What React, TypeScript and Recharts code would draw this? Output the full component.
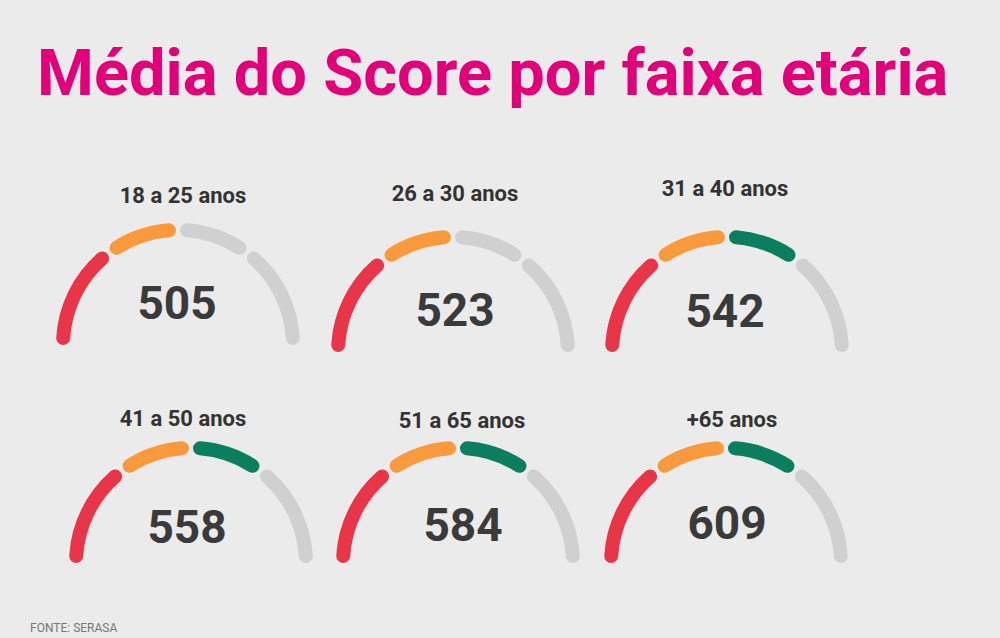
import React from 'react';
import { PieChart, Pie, Cell } from 'recharts';

// ---- data ----
const ageGroups = ['18 a 25 anos', '26 a 30 anos', '31 a 40 anos', '41 a 50 anos', '51 a 65 anos', '+65 anos'];
const scores = [505, 523, 542, 558, 584, 609];
const litBands = [2, 2, 3, 3, 3, 3];
const bandNames = ['Baixo', 'Regular', 'Bom', 'Excelente'];
const bandSizes = [300, 200, 200, 300];
const bandColors = ['#E93548', '#FA9A3C', '#0B7E5F', '#D0D0D0'];
const offColor = '#D0D0D0';
const title = 'Média do Score por faixa etária';
const source = 'FONTE: SERASA';

// ---- layout ----
const W = 1000;
const H = 638;
const gaugePos = [
  { cx: 178, cy: 345, lx: 183, ly: 195, nx: 177, ny: 303 },
  { cx: 453, cy: 352, lx: 455, ly: 193, nx: 455, ny: 310 },
  { cx: 727, cy: 352, lx: 725, ly: 188, nx: 725, ny: 311 },
  { cx: 191, cy: 563, lx: 183, ly: 418, nx: 187, ny: 527 },
  { cx: 458, cy: 563, lx: 462, ly: 420, nx: 463, ny: 525 },
  { cx: 726, cy: 563, lx: 732, ly: 419, nx: 727, ny: 523 },
];

const bandData = bandNames.map((name, i) => ({ name, value: bandSizes[i] }));

export default function App() {
  const font = 'Roboto, "Noto Sans", Arial, sans-serif';
  return (
    <div
      style={{
        position: 'fixed',
        left: 0,
        top: 0,
        width: W,
        height: H,
        background: '#EBEBEB',
        overflow: 'hidden',
        fontFamily: font,
      }}
    >
      <PieChart width={W} height={H} margin={{ top: 0, right: 0, bottom: 0, left: 0 }}>
        {scores.map((s, g) => (
          <Pie
            key={g}
            data={bandData}
            dataKey="value"
            nameKey="name"
            cx={gaugePos[g].cx}
            cy={gaugePos[g].cy}
            startAngle={180}
            endAngle={0}
            innerRadius={108}
            outerRadius={122}
            paddingAngle={2}
            cornerRadius={7}
            stroke="none"
            isAnimationActive={false}
          >
            {bandData.map((b, i) => (
              <Cell key={i} fill={i < litBands[g] ? bandColors[i] : offColor} />
            ))}
          </Pie>
        ))}
      </PieChart>
      <svg
        width={W}
        height={H}
        style={{ position: 'absolute', left: 0, top: 0, pointerEvents: 'none' }}
      >
        <text
          x={37}
          y={95}
          fill="#E2007A"
          fontFamily={font}
          fontWeight={700}
          fontSize={65}
        >
          {title}
        </text>
        {scores.map((s, g) => (
          <g key={g}>
            <text
              x={gaugePos[g].lx}
              y={gaugePos[g].ly}
              textAnchor="middle"
              dominantBaseline="central"
              fill="#333333"
              fontFamily={font}
              fontWeight={700}
              fontSize={22}
            >
              {ageGroups[g]}
            </text>
            <text
              x={gaugePos[g].nx}
              y={gaugePos[g].ny}
              textAnchor="middle"
              dominantBaseline="central"
              fill="#3A3A3A"
              fontFamily={font}
              fontWeight={700}
              fontSize={46}
            >
              {s}
            </text>
          </g>
        ))}
        <text x={30} y={632} fill="#777777" fontFamily={font} fontSize={12}>
          {source}
        </text>
      </svg>
    </div>
  );
}
